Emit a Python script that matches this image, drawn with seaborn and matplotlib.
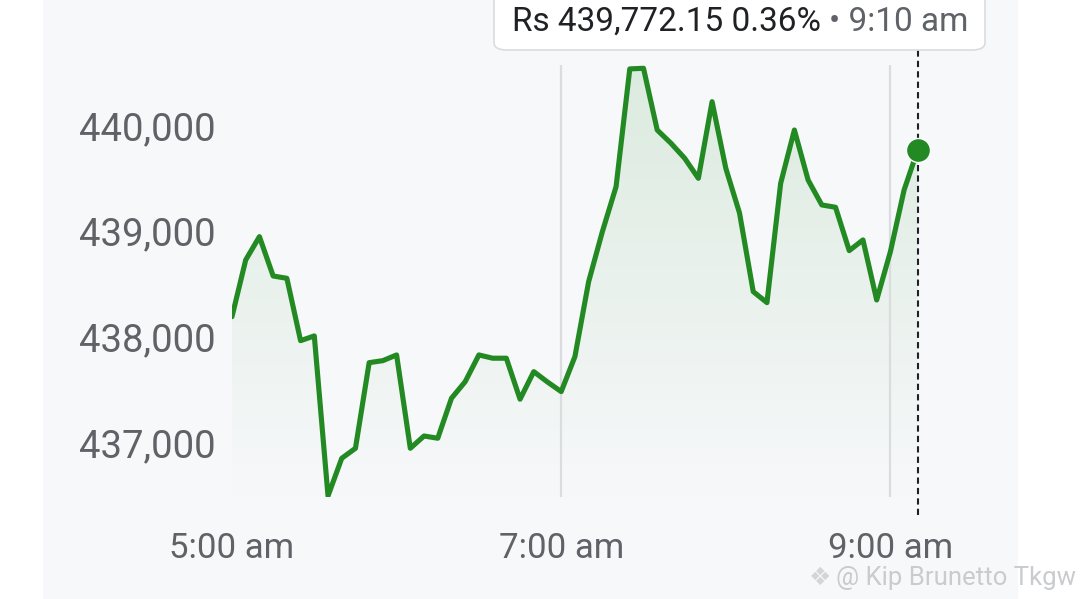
import numpy as np
import pandas as pd
import matplotlib
matplotlib.use("Agg")
import matplotlib.pyplot as plt
import matplotlib.dates as mdates
from matplotlib.colors import LinearSegmentedColormap
from matplotlib.patches import Rectangle, FancyBboxPatch
import seaborn as sns

# price every 5 minutes from 5:00 am to 9:10 am
prices = [438191, 438728, 438948, 438576, 438554, 437964, 438009, 436495,
          436851, 436946, 437756, 437775, 437829, 436946, 437062, 437041,
          437419, 437576, 437829, 437798, 437798, 437410, 437671, 437573,
          437482, 437813, 438522, 438995, 439421, 440535, 440541, 439957,
          439832, 439690, 439500, 440225, 439595, 439172, 438428, 438324,
          439453, 439957, 439484, 439248, 439226, 438816, 438917, 438349,
          438806, 439390, 439772.15]
times = pd.date_range("2024-01-01 05:00", periods=len(prices), freq="5min")
df = pd.DataFrame({"time": times, "price": prices})

y_ticks = [437000, 438000, 439000, 440000]
x_ticks = pd.to_datetime(["2024-01-01 05:00", "2024-01-01 07:00", "2024-01-01 09:00"])
x_tick_labels = ["5:00 am", "7:00 am", "9:00 am"]
tooltip_main = "Rs 439,772.15 0.36%"
tooltip_time = "\u2022 9:10 am"
watermark = "@ Kip Brunetto Tkgw"

sns.set_theme(style="white")
plt.rcParams["font.family"] = ["Roboto", "DejaVu Sans"]

green = "#238a23"
panel = "#f7f8fa"

fig = plt.figure(figsize=(10.8, 5.99), dpi=100)
fig.patch.set_facecolor("white")
fig.patches.append(Rectangle((43 / 1080, 0), (1018 - 43) / 1080, 1,
                             transform=fig.transFigure, facecolor=panel,
                             edgecolor="none", zorder=-10))

ax = fig.add_axes([232 / 1080, 1 - 497 / 599, 740.7 / 1080, 432 / 599])
ax.set_facecolor("none")

ylo, yhi = 436485, 440572
xlo = pd.Timestamp("2024-01-01 05:00")
xhi = pd.Timestamp("2024-01-01 09:30")

# gradient fill under the line
fill = ax.fill_between(df["time"], df["price"], ylo, color="none", lw=0)
grad = np.linspace(0, 1, 256).reshape(-1, 1)
cmap = LinearSegmentedColormap.from_list("g", [panel, "#dcebdf"])
im = ax.imshow(grad, cmap=cmap, aspect="auto", origin="lower", zorder=1,
               extent=[mdates.date2num(xlo), mdates.date2num(times[-1]),
                       ylo, max(prices)])
im.set_clip_path(fill.get_paths()[0], transform=ax.transData)

for t in x_ticks[1:]:
    ax.axvline(t, color="#dadce0", lw=1.6, zorder=2)

sns.lineplot(data=df, x="time", y="price", color=green, lw=3.7, ax=ax, zorder=3)

# hover cursor and last point
ax.axvline(times[-1], ymin=-0.042, ymax=1.035, color="#202124", lw=1.5,
           ls=(0, (3, 2)), clip_on=False, zorder=4)
ax.scatter([times[-1]], [prices[-1]], s=300, color=green, edgecolor="white",
           linewidth=1, zorder=5, clip_on=False)

ax.set_xlim(xlo, xhi)
ax.set_ylim(ylo, yhi)
ax.set_yticks(y_ticks)
ax.set_yticklabels([f"{v:,}" for v in y_ticks])
ax.set_xticks(x_ticks)
ax.set_xticklabels(x_tick_labels)
ax.tick_params(axis="y", length=0, pad=12, labelsize=27.5, labelcolor="#5f6368")
ax.tick_params(axis="x", length=0, pad=25, labelsize=25, labelcolor="#5f6368")
ax.set_xlabel("")
ax.set_ylabel("")
sns.despine(ax=ax, left=True, bottom=True)

# tooltip
fig.patches.append(FancyBboxPatch((494 / 1080, 1 - 50 / 599), (985 - 494) / 1080, 0.15,
                                  boxstyle="round,pad=0,rounding_size=0.012",
                                  transform=fig.transFigure, facecolor="white",
                                  edgecolor="#dadce0", lw=1.2, zorder=10))
t1 = fig.text(512 / 1080, 1 - 22 / 599, tooltip_main, fontsize=24, color="#202124",
              va="center", ha="left", zorder=11)
fig.canvas.draw()
bb = t1.get_window_extent()
fig.text((bb.x1 + 8) / 1080, 1 - 22 / 599, tooltip_time, fontsize=24, color="#5f6368",
         va="center", ha="left", zorder=11)

fig.text(1076 / 1080, 1 - 578 / 599, watermark, fontsize=18.5, color="#c9cbce",
         ha="right", va="center")
fig.text(820 / 1080, 1 - 578 / 599, "\u2756", fontsize=18, color="#d3d5d8",
         ha="center", va="center", family=["DejaVu Sans"])

fig.savefig("out.png", dpi=100)
